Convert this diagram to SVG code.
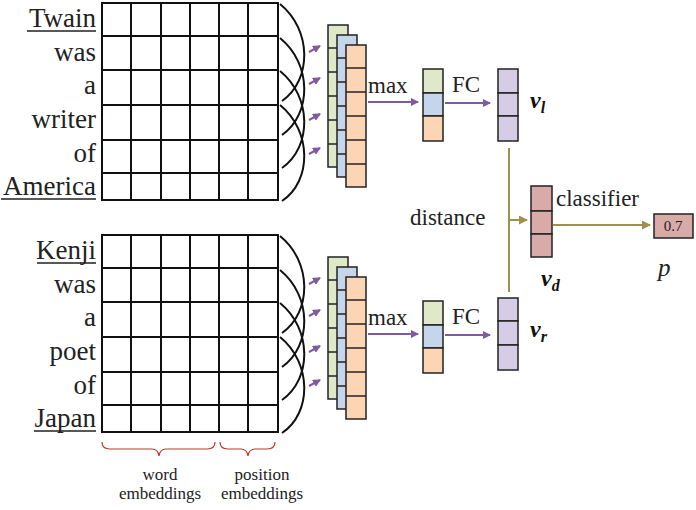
<svg xmlns="http://www.w3.org/2000/svg" width="696" height="510" viewBox="0 0 696 510">
<style>
text{font-family:'Liberation Serif','Times New Roman',serif}
.w{font-size:27px;fill:#222;text-anchor:end}
.t{font-size:23px;fill:#222}
.s{font-size:17px;fill:#222;text-anchor:middle}
.g{fill:#fff;stroke:#111;stroke-width:2}
.c{fill:none;stroke:#111;stroke-width:2}
.pa{stroke:#7f5aa0;stroke-width:2;fill:none}
.ga{stroke:#9e9050;stroke-width:2;fill:none}
.gr{fill:#dfe8c8;stroke:#222;stroke-width:1.5}
.bl{fill:#c5d6ec;stroke:#222;stroke-width:1.5}
.or{fill:#fcd5b5;stroke:#222;stroke-width:1.5}
.pu{fill:#d6cce6;stroke:#222;stroke-width:1.5}
.pk{fill:#d8aaa8;stroke:#222;stroke-width:1.5}
.br{fill:none;stroke:#c0392b;stroke-width:1.2}
.v{font-size:24px;font-weight:bold;font-style:italic;fill:#111}
</style>
<defs>
<marker id="pm" markerWidth="8" markerHeight="8" refX="7" refY="4" orient="auto" markerUnits="userSpaceOnUse"><path d="M0,0 L8,4 L0,8 z" fill="#7f5aa0"/></marker>
<marker id="gm" markerWidth="9" markerHeight="9" refX="8" refY="4.5" orient="auto" markerUnits="userSpaceOnUse"><path d="M0,0 L9,4.5 L0,9 z" fill="#9e9050"/></marker>
<g id="branch">
<rect class="g" x="102" y="3" width="176" height="197"/>
<path class="c" d="M131,3V200M161,3V200M190,3V200M219,3V200M248,3V200M102,36H278M102,70H278M102,105H278M102,140H278M102,173H278"/>
<path class="c" d="M280,4C312,30 312,80 282,101M280,38C312,64 312,114 282,135M280,71C312,97 312,147 282,168M280,105C312,131 312,181 282,201"/>
<path class="pa" d="M309,52L320,46" marker-end="url(#pm)"/>
<path class="pa" d="M309,84L320,78" marker-end="url(#pm)"/>
<path class="pa" d="M309,120L320,114" marker-end="url(#pm)"/>
<path class="pa" d="M309,154L320,148" marker-end="url(#pm)"/>
<rect class="gr" x="328" y="25" width="20" height="142"/>
<path stroke="#222" stroke-width="1.5" d="M328,48H348M328,72H348M328,96H348M328,120H348M328,144H348"/>
<rect class="bl" x="337" y="35" width="20" height="142"/>
<path stroke="#222" stroke-width="1.5" d="M337,58H357M337,82H357M337,106H357M337,130H357M337,154H357"/>
<rect class="or" x="346" y="45" width="20" height="142"/>
<path stroke="#222" stroke-width="1.5" d="M346,68H366M346,92H366M346,116H366M346,140H366M346,164H366"/>
<text class="t" x="368" y="93">max</text>
<path class="pa" d="M368,102H418" marker-end="url(#pm)"/>
<rect class="gr" x="423" y="69" width="20" height="24"/>
<rect class="bl" x="423" y="93" width="20" height="23"/>
<rect class="or" x="423" y="116" width="20" height="25"/>
<text class="t" x="452" y="92">FC</text>
<path class="pa" d="M445,103H490" marker-end="url(#pm)"/>
</g>
</defs>
<g id="top">
<use href="#branch"/>
<g class="w"><text x="96" y="27">Twain</text><text x="96" y="61">was</text><text x="96" y="94">a</text><text x="96" y="128">writer</text><text x="96" y="162">of</text><text x="96" y="195">America</text></g>
<path stroke="#222" stroke-width="1.3" d="M27,31H96M1,199H96"/>
<rect class="pu" x="498" y="69" width="20" height="24"/><rect class="pu" x="498" y="93" width="20" height="23"/><rect class="pu" x="498" y="116" width="20" height="25"/>
<text class="v" x="530" y="108">v<tspan font-size="16" dy="5">l</tspan></text>
</g>
<g id="bottom">
<use href="#branch" transform="translate(0,232)"/>
<g class="w"><text x="96" y="259">Kenji</text><text x="96" y="293">was</text><text x="96" y="326">a</text><text x="96" y="360">poet</text><text x="96" y="394">of</text><text x="96" y="427">Japan</text></g>
<path stroke="#222" stroke-width="1.3" d="M37,263H96M34,431H96"/>
<rect class="pu" x="498" y="298" width="20" height="23"/><rect class="pu" x="498" y="321" width="20" height="24"/><rect class="pu" x="498" y="345" width="20" height="25"/>
<text class="v" x="530" y="337">v<tspan font-size="16" dy="5">r</tspan></text>
</g>
<g id="connectors">
<path class="ga" d="M509,148V292"/>
<path class="ga" d="M509,220H527" marker-end="url(#gm)"/>
<path class="ga" d="M553,225H650" marker-end="url(#gm)"/>
</g>
<text class="t" x="410" y="225">distance</text>
<g id="vd">
<rect class="pk" x="531" y="186" width="21" height="25"/><rect class="pk" x="531" y="211" width="21" height="23"/><rect class="pk" x="531" y="234" width="21" height="23"/>
<text class="v" x="541" y="286">v<tspan font-size="16" dy="5">d</tspan></text>
</g>
<text class="t" x="556" y="206">classifier</text>
<g id="p">
<rect class="pk" x="654" y="214" width="39" height="24"/>
<text x="673" y="231" font-size="15" text-anchor="middle" fill="#222">0.7</text>
<text x="658" y="276" font-size="25" font-style="italic" fill="#222">p</text>
</g>
<g id="braces">
<path class="br" d="M102,442Q102,449 110,449H152Q158,449 159,456Q160,449 166,449H207Q215,449 215,442"/>
<path class="br" d="M220,442Q220,449 228,449H241Q247,449 248,456Q249,449 255,449H267Q275,449 275,442"/>
<text class="s" x="160" y="480">word</text><text class="s" x="160" y="499">embeddings</text>
<text class="s" x="262" y="480">position</text><text class="s" x="262" y="499">embeddings</text>
</g>
</svg>
